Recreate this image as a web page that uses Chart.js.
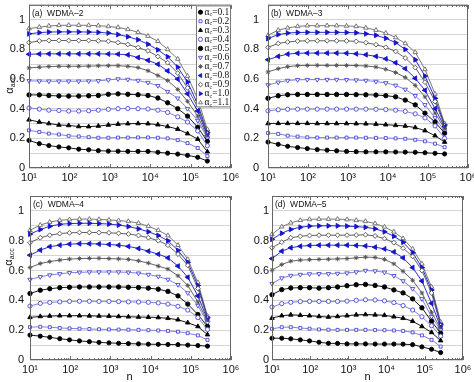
<!DOCTYPE html>
<html>
<head>
<meta charset="utf-8">
<script src="https://cdn.jsdelivr.net/npm/chart.js@4.4.0/dist/chart.umd.min.js"></script>
<style>
	html, body { margin: 0; padding: 0; background: #fff; }
	#wrap { position: relative; width: 474px; height: 382px; overflow: hidden; }
	canvas { position: absolute; }
</style>
</head>
<body>
<div id="wrap">
	<canvas id="panelA" width="246" height="190" style="left:0;top:0"></canvas>
	<canvas id="panelB" width="238" height="190" style="left:236px;top:0"></canvas>
	<canvas id="panelC" width="246" height="192" style="left:0;top:190px"></canvas>
	<canvas id="panelD" width="238" height="192" style="left:236px;top:190px"></canvas>
</div>
<script>
// Data: 11 curves (alpha_c = 0.1 ... 1.1) per panel
const nValues = [10, 18, 31, 55, 96, 170, 300, 520, 920, 1600, 2800, 5000, 8800, 15500, 27000, 48000, 84000, 150000, 260000];
const alphaC = ["0.1", "0.2", "0.3", "0.4", "0.5", "0.6", "0.7", "0.8", "0.9", "1.0", "1.1"];
const xTickValues = [10, 100, 1000, 10000, 100000, 1000000];
const xTickLabels = ["10¹", "10²", "10³", "10⁴", "10⁵", "10⁶"];
const yTickLabels = ["0", "0.2", "0.4", "0.6", "0.8", "1"];

// (a) WDMA-2
const wdma2 = [
	[0.186, 0.164, 0.151, 0.142, 0.136, 0.127, 0.123, 0.117, 0.114, 0.113, 0.112, 0.112, 0.112, 0.106, 0.100, 0.094, 0.085, 0.072, 0.047],
	[0.254, 0.243, 0.232, 0.226, 0.217, 0.213, 0.208, 0.204, 0.204, 0.205, 0.205, 0.206, 0.206, 0.204, 0.200, 0.188, 0.168, 0.135, 0.080],
	[0.325, 0.310, 0.300, 0.290, 0.287, 0.280, 0.279, 0.283, 0.290, 0.296, 0.299, 0.300, 0.299, 0.292, 0.280, 0.262, 0.232, 0.195, 0.110],
	[0.405, 0.397, 0.390, 0.388, 0.384, 0.384, 0.386, 0.390, 0.396, 0.400, 0.401, 0.400, 0.398, 0.390, 0.375, 0.345, 0.310, 0.250, 0.150],
	[0.493, 0.493, 0.489, 0.486, 0.485, 0.485, 0.487, 0.489, 0.497, 0.500, 0.497, 0.494, 0.489, 0.472, 0.440, 0.400, 0.350, 0.275, 0.180],
	[0.588, 0.586, 0.585, 0.585, 0.585, 0.585, 0.586, 0.588, 0.594, 0.600, 0.597, 0.590, 0.576, 0.555, 0.515, 0.470, 0.400, 0.320, 0.200],
	[0.675, 0.680, 0.684, 0.686, 0.686, 0.686, 0.687, 0.689, 0.690, 0.690, 0.686, 0.677, 0.656, 0.624, 0.590, 0.530, 0.450, 0.350, 0.210],
	[0.767, 0.769, 0.770, 0.770, 0.770, 0.770, 0.770, 0.770, 0.769, 0.768, 0.763, 0.745, 0.726, 0.700, 0.655, 0.600, 0.500, 0.385, 0.220],
	[0.846, 0.857, 0.860, 0.860, 0.860, 0.860, 0.860, 0.858, 0.855, 0.846, 0.833, 0.812, 0.790, 0.752, 0.710, 0.640, 0.540, 0.410, 0.230],
	[0.905, 0.913, 0.917, 0.918, 0.918, 0.918, 0.917, 0.915, 0.910, 0.900, 0.885, 0.865, 0.835, 0.797, 0.750, 0.680, 0.580, 0.430, 0.240],
	[0.940, 0.950, 0.958, 0.962, 0.963, 0.963, 0.962, 0.960, 0.955, 0.948, 0.935, 0.915, 0.890, 0.855, 0.800, 0.735, 0.620, 0.465, 0.260],
];

// (b) WDMA-3
const wdma3 = [
	[0.175, 0.160, 0.146, 0.138, 0.131, 0.124, 0.120, 0.116, 0.112, 0.110, 0.109, 0.109, 0.109, 0.108, 0.107, 0.106, 0.103, 0.099, 0.095],
	[0.236, 0.230, 0.218, 0.212, 0.207, 0.205, 0.205, 0.205, 0.205, 0.205, 0.204, 0.203, 0.202, 0.200, 0.197, 0.190, 0.180, 0.164, 0.140],
	[0.300, 0.301, 0.301, 0.301, 0.301, 0.300, 0.300, 0.300, 0.300, 0.299, 0.298, 0.296, 0.292, 0.288, 0.283, 0.273, 0.252, 0.218, 0.175],
	[0.386, 0.393, 0.396, 0.397, 0.397, 0.397, 0.397, 0.397, 0.397, 0.397, 0.397, 0.396, 0.394, 0.390, 0.382, 0.365, 0.338, 0.284, 0.200],
	[0.470, 0.487, 0.494, 0.496, 0.496, 0.496, 0.496, 0.496, 0.496, 0.495, 0.494, 0.492, 0.488, 0.480, 0.458, 0.426, 0.370, 0.310, 0.235],
	[0.560, 0.578, 0.590, 0.595, 0.596, 0.596, 0.596, 0.596, 0.595, 0.593, 0.590, 0.583, 0.574, 0.557, 0.530, 0.487, 0.426, 0.338, 0.250],
	[0.648, 0.670, 0.683, 0.690, 0.692, 0.692, 0.692, 0.692, 0.692, 0.691, 0.688, 0.681, 0.666, 0.644, 0.611, 0.557, 0.480, 0.370, 0.266],
	[0.730, 0.753, 0.768, 0.774, 0.775, 0.775, 0.775, 0.775, 0.774, 0.770, 0.764, 0.753, 0.736, 0.710, 0.670, 0.605, 0.524, 0.400, 0.277],
	[0.814, 0.840, 0.850, 0.856, 0.858, 0.858, 0.858, 0.858, 0.857, 0.854, 0.845, 0.832, 0.814, 0.786, 0.742, 0.677, 0.579, 0.448, 0.284],
	[0.873, 0.900, 0.910, 0.914, 0.915, 0.915, 0.915, 0.915, 0.914, 0.912, 0.905, 0.895, 0.875, 0.845, 0.800, 0.730, 0.620, 0.470, 0.290],
	[0.895, 0.930, 0.945, 0.955, 0.960, 0.960, 0.960, 0.960, 0.958, 0.955, 0.945, 0.930, 0.910, 0.880, 0.840, 0.780, 0.665, 0.500, 0.300],
];

// (c) WDMA-4
const wdma4 = [
	[0.167, 0.160, 0.152, 0.143, 0.135, 0.128, 0.123, 0.118, 0.115, 0.112, 0.110, 0.108, 0.106, 0.105, 0.104, 0.103, 0.100, 0.097, 0.093],
	[0.220, 0.223, 0.220, 0.215, 0.212, 0.210, 0.208, 0.206, 0.205, 0.204, 0.203, 0.202, 0.200, 0.198, 0.195, 0.190, 0.180, 0.165, 0.135],
	[0.286, 0.292, 0.295, 0.297, 0.297, 0.297, 0.296, 0.295, 0.294, 0.292, 0.290, 0.288, 0.287, 0.285, 0.280, 0.270, 0.250, 0.225, 0.170],
	[0.362, 0.380, 0.386, 0.390, 0.393, 0.394, 0.394, 0.393, 0.393, 0.392, 0.390, 0.389, 0.387, 0.383, 0.375, 0.360, 0.335, 0.285, 0.205],
	[0.446, 0.468, 0.478, 0.485, 0.488, 0.490, 0.490, 0.490, 0.490, 0.490, 0.488, 0.486, 0.482, 0.475, 0.460, 0.430, 0.375, 0.305, 0.225],
	[0.540, 0.558, 0.570, 0.578, 0.585, 0.588, 0.590, 0.590, 0.590, 0.590, 0.588, 0.582, 0.573, 0.560, 0.540, 0.505, 0.450, 0.365, 0.250],
	[0.620, 0.647, 0.660, 0.670, 0.677, 0.680, 0.682, 0.682, 0.680, 0.678, 0.675, 0.665, 0.650, 0.630, 0.610, 0.565, 0.500, 0.390, 0.260],
	[0.703, 0.737, 0.760, 0.770, 0.777, 0.780, 0.780, 0.778, 0.775, 0.770, 0.762, 0.748, 0.730, 0.710, 0.685, 0.630, 0.555, 0.430, 0.270],
	[0.786, 0.820, 0.837, 0.848, 0.853, 0.855, 0.855, 0.855, 0.853, 0.850, 0.845, 0.835, 0.820, 0.800, 0.770, 0.710, 0.635, 0.480, 0.280],
	[0.844, 0.875, 0.897, 0.910, 0.915, 0.917, 0.917, 0.915, 0.912, 0.905, 0.895, 0.880, 0.860, 0.835, 0.800, 0.735, 0.655, 0.500, 0.285],
	[0.870, 0.905, 0.925, 0.937, 0.942, 0.945, 0.945, 0.943, 0.940, 0.935, 0.930, 0.918, 0.897, 0.870, 0.835, 0.770, 0.675, 0.520, 0.295],
];

// (d) WDMA-5
const wdma5 = [
	[0.146, 0.146, 0.142, 0.135, 0.128, 0.119, 0.112, 0.111, 0.108, 0.108, 0.108, 0.107, 0.107, 0.107, 0.106, 0.103, 0.088, 0.072, 0.050],
	[0.209, 0.220, 0.220, 0.215, 0.210, 0.205, 0.203, 0.202, 0.202, 0.202, 0.202, 0.201, 0.200, 0.198, 0.195, 0.185, 0.165, 0.135, 0.090],
	[0.281, 0.297, 0.303, 0.300, 0.297, 0.292, 0.288, 0.292, 0.297, 0.303, 0.305, 0.303, 0.300, 0.290, 0.280, 0.260, 0.225, 0.185, 0.130],
	[0.355, 0.378, 0.387, 0.392, 0.393, 0.393, 0.393, 0.393, 0.395, 0.400, 0.404, 0.403, 0.397, 0.385, 0.365, 0.335, 0.290, 0.230, 0.160],
	[0.438, 0.472, 0.483, 0.485, 0.485, 0.482, 0.485, 0.490, 0.498, 0.505, 0.507, 0.500, 0.490, 0.470, 0.450, 0.410, 0.350, 0.260, 0.180],
	[0.512, 0.550, 0.566, 0.573, 0.577, 0.578, 0.578, 0.580, 0.583, 0.590, 0.600, 0.597, 0.588, 0.565, 0.530, 0.478, 0.410, 0.290, 0.200],
	[0.602, 0.640, 0.663, 0.670, 0.673, 0.675, 0.676, 0.678, 0.680, 0.685, 0.690, 0.688, 0.675, 0.645, 0.595, 0.535, 0.450, 0.320, 0.210],
	[0.680, 0.730, 0.753, 0.763, 0.768, 0.770, 0.770, 0.770, 0.770, 0.768, 0.765, 0.757, 0.745, 0.725, 0.685, 0.620, 0.530, 0.380, 0.220],
	[0.753, 0.790, 0.820, 0.830, 0.835, 0.837, 0.837, 0.837, 0.837, 0.838, 0.840, 0.832, 0.814, 0.787, 0.750, 0.695, 0.600, 0.450, 0.230],
	[0.810, 0.850, 0.876, 0.890, 0.898, 0.900, 0.900, 0.900, 0.898, 0.895, 0.890, 0.880, 0.860, 0.830, 0.790, 0.720, 0.620, 0.470, 0.240],
	[0.843, 0.894, 0.920, 0.937, 0.943, 0.945, 0.945, 0.945, 0.942, 0.937, 0.930, 0.915, 0.893, 0.860, 0.815, 0.745, 0.645, 0.490, 0.255],
];

// Marker / line style of each alpha_c curve (same in every panel)
const BLACK = "#000000";
const GRAY = "#505050";
const BLUE_OPEN = "#4646dc";
const BLUE_LINE = "#7373e0";
const BLUE_FILL = "#1414c8";
const seriesStyles = [
	{ shape: "circle", radius: 2.1, fill: BLACK, edge: BLACK, line: BLACK },
	{ shape: "rect", radius: 2.1, fill: "#fff", edge: BLUE_OPEN, line: BLUE_LINE },
	{ shape: "triangle", radius: 2.6, fill: BLACK, edge: BLACK, line: BLACK },
	{ shape: "circle", radius: 2.1, fill: "#fff", edge: BLUE_OPEN, line: BLUE_LINE },
	{ shape: "circle", radius: 2.2, fill: BLACK, edge: BLACK, line: BLACK },
	{ shape: "triangle", rotation: 180, radius: 2.5, fill: "#fff", edge: BLUE_OPEN, line: BLUE_LINE },
	{ shape: "star", radius: 2.3, fill: GRAY, edge: GRAY, line: GRAY },
	{ shape: "triangle", rotation: 270, radius: 2.8, fill: BLUE_FILL, edge: BLUE_FILL, line: BLUE_FILL },
	{ shape: "rectRot", radius: 2.4, fill: "#fff", edge: GRAY, line: GRAY },
	{ shape: "triangle", rotation: 90, radius: 2.8, fill: BLUE_FILL, edge: BLUE_FILL, line: BLUE_FILL },
	{ shape: "triangle", radius: 2.6, fill: "#fff", edge: "#6a6a6a", line: "#6a6a6a" },
];

const FONT = "'Liberation Sans', Arial, sans-serif";
const SERIF = "'Liberation Serif', 'Times New Roman', serif";

function buildDatasets(series) {
	return series.map((values, i) => {
		const st = seriesStyles[i];
		return {
			label: "αc=" + alphaC[i],
			data: nValues.map((n, k) => ({ x: n, y: values[k] })),
			borderColor: st.line,
			borderWidth: 0.9,
			pointStyle: st.shape,
			rotation: st.rotation || 0,
			pointRadius: st.radius,
			pointBackgroundColor: st.fill,
			pointBorderColor: st.edge,
			pointBorderWidth: 0.9,
			tension: 0,
			clip: false,
		};
	});
}

// Draws frame, inward ticks, panel title, axis titles and the legend box
function decorPlugin(cfg) {
	return {
		id: "decor",
		afterDraw(chart) {
			const ctx = chart.ctx;
			const a = chart.chartArea;
			const xs = chart.scales.x;
			ctx.save();

			// inward tick marks on top and bottom edges
			ctx.strokeStyle = "#444";
			ctx.lineWidth = 0.8;
			xs.ticks.forEach((t) => {
				const px = Math.round(xs.getPixelForValue(t.value)) + 0.5;
				const major = xTickValues.includes(Math.round(t.value));
				const len = major ? 4 : 2;
				ctx.beginPath();
				ctx.moveTo(px, a.bottom);
				ctx.lineTo(px, a.bottom - len);
				ctx.moveTo(px, a.top);
				ctx.lineTo(px, a.top + len);
				ctx.stroke();
			});

			// box
			ctx.strokeStyle = "#666";
			ctx.lineWidth = 1;
			ctx.strokeRect(a.left + 0.5, a.top + 0.5, a.right - a.left - 1, a.bottom - a.top - 1);

			// panel title
			ctx.fillStyle = "#111";
			ctx.font = "8.5px " + FONT;
			ctx.textBaseline = "middle";
			ctx.textAlign = "left";
			ctx.fillText(cfg.title, a.left + 3, a.top + 9);

			// y title: alpha with subscript "acc"
			if (cfg.yTitle) {
				ctx.save();
				ctx.translate(cfg.yTitle.x, cfg.yTitle.y);
				ctx.rotate(-Math.PI / 2);
				ctx.font = "11px " + FONT;
				const w1 = ctx.measureText("α").width;
				ctx.font = "7px " + FONT;
				const w2 = ctx.measureText("acc").width;
				const x0 = -(w1 + w2) / 2;
				ctx.font = "11px " + FONT;
				ctx.fillText("α", x0, 0);
				ctx.font = "7px " + FONT;
				ctx.fillText("acc", x0 + w1, 3);
				ctx.restore();
			}

			// x title
			if (cfg.xTitle) {
				ctx.font = "11px " + FONT;
				ctx.textAlign = "center";
				ctx.fillText("n", (a.left + a.right) / 2 + cfg.xTitle.dx, cfg.xTitle.y);
			}

			// legend (panel a only)
			if (cfg.legend) {
				const lx = a.right - 35;
				const ly = a.top + 0.5;
				ctx.fillStyle = "#fff";
				ctx.fillRect(lx, ly, 35, 102);
				ctx.strokeStyle = "#777";
				ctx.lineWidth = 1;
				ctx.strokeRect(lx + 0.5, ly + 0.5, 34, 101);
				chart.data.datasets.forEach((ds, i) => {
					const st = seriesStyles[i];
					const y = ly + 6.8 + i * 9.05;
					ctx.fillStyle = st.fill;
					ctx.strokeStyle = st.edge;
					ctx.lineWidth = 0.9;
					Chart.helpers.drawPoint(ctx, {
						pointStyle: st.shape,
						rotation: st.rotation || 0,
						radius: Math.min(st.radius, 2.3),
						borderWidth: 0.9,
					}, lx + 4.5, y);
					ctx.fillStyle = "#111";
					ctx.textAlign = "left";
					ctx.font = "9.5px " + SERIF;
					ctx.fillText("α", lx + 8.5, y);
					const wa = ctx.measureText("α").width;
					ctx.font = "6px " + SERIF;
					ctx.fillText("c", lx + 8.5 + wa, y + 2.5);
					const wc = ctx.measureText("c").width;
					ctx.font = "9.5px " + SERIF;
					ctx.fillText("=" + alphaC[i], lx + 8.5 + wa + wc, y);
				});
			}
			ctx.restore();
		},
	};
}

function makePanel(canvasId, series, cfg) {
	const el = document.getElementById(canvasId);
	if (!el) return;
	new Chart(el.getContext("2d"), {
		type: "line",
		data: { datasets: buildDatasets(series) },
		options: {
			responsive: false,
			animation: false,
			events: [],
			layout: { padding: { top: cfg.top, right: cfg.right, left: 0, bottom: 0 } },
			plugins: { legend: { display: false }, tooltip: { enabled: false } },
			scales: {
				x: {
					type: "logarithmic",
					min: 10,
					max: 1000000,
					grid: { display: false, drawTicks: false },
					border: { display: false },
					ticks: {
						autoSkip: false,
						maxRotation: 0,
						padding: 3,
						color: "#111",
						font: { family: FONT, size: 11 },
						callback: (v) => {
							const idx = xTickValues.indexOf(Math.round(v));
							return idx >= 0 ? xTickLabels[idx] : "";
						},
					},
					afterFit: (s) => {
						s.height = cfg.xHeight;
						s.paddingLeft = 0;
						s.paddingRight = 0;
					},
				},
				y: {
					type: "linear",
					min: 0,
					max: 1.1,
					grid: { color: "#d4d4d4", lineWidth: 1, drawTicks: false },
					border: { display: false },
					ticks: {
						stepSize: 0.1,
						autoSkip: false,
						padding: cfg.yPad,
						color: "#111",
						font: { family: FONT, size: 11 },
						callback: (v) => {
							const t = Math.round(v * 10);
							return t % 2 === 0 && t <= 10 ? yTickLabels[t / 2] : "";
						},
					},
					afterFit: (s) => {
						s.width = cfg.yWidth;
						s.paddingTop = 0;
						s.paddingBottom = 0;
					},
				},
			},
		},
		plugins: [decorPlugin(cfg)],
	});
}

document.addEventListener("DOMContentLoaded", function() {
	makePanel("panelA", wdma2, {
		title: "(a)  WDMA–2", yWidth: 29, right: 15, top: 1, xHeight: 22, yPad: 4,
		legend: true, yTitle: { x: 10, y: 85 },
	});
	makePanel("panelB", wdma3, {
		title: "(b)  WDMA–3", yWidth: 32, right: 6, top: 1, xHeight: 22, yPad: 9,
	});
	makePanel("panelC", wdma4, {
		title: "(c)  WDMA–4", yWidth: 30, right: 15, top: 6, xHeight: 22, yPad: 6,
		yTitle: { x: 9, y: 67 }, xTitle: { dx: -1, y: 187 },
	});
	makePanel("panelD", wdma5, {
		title: "(d)  WDMA–5", yWidth: 36, right: 11, top: 6, xHeight: 22, yPad: 3,
		xTitle: { dx: 0, y: 187 },
	});
});
</script>
</body>
</html>
